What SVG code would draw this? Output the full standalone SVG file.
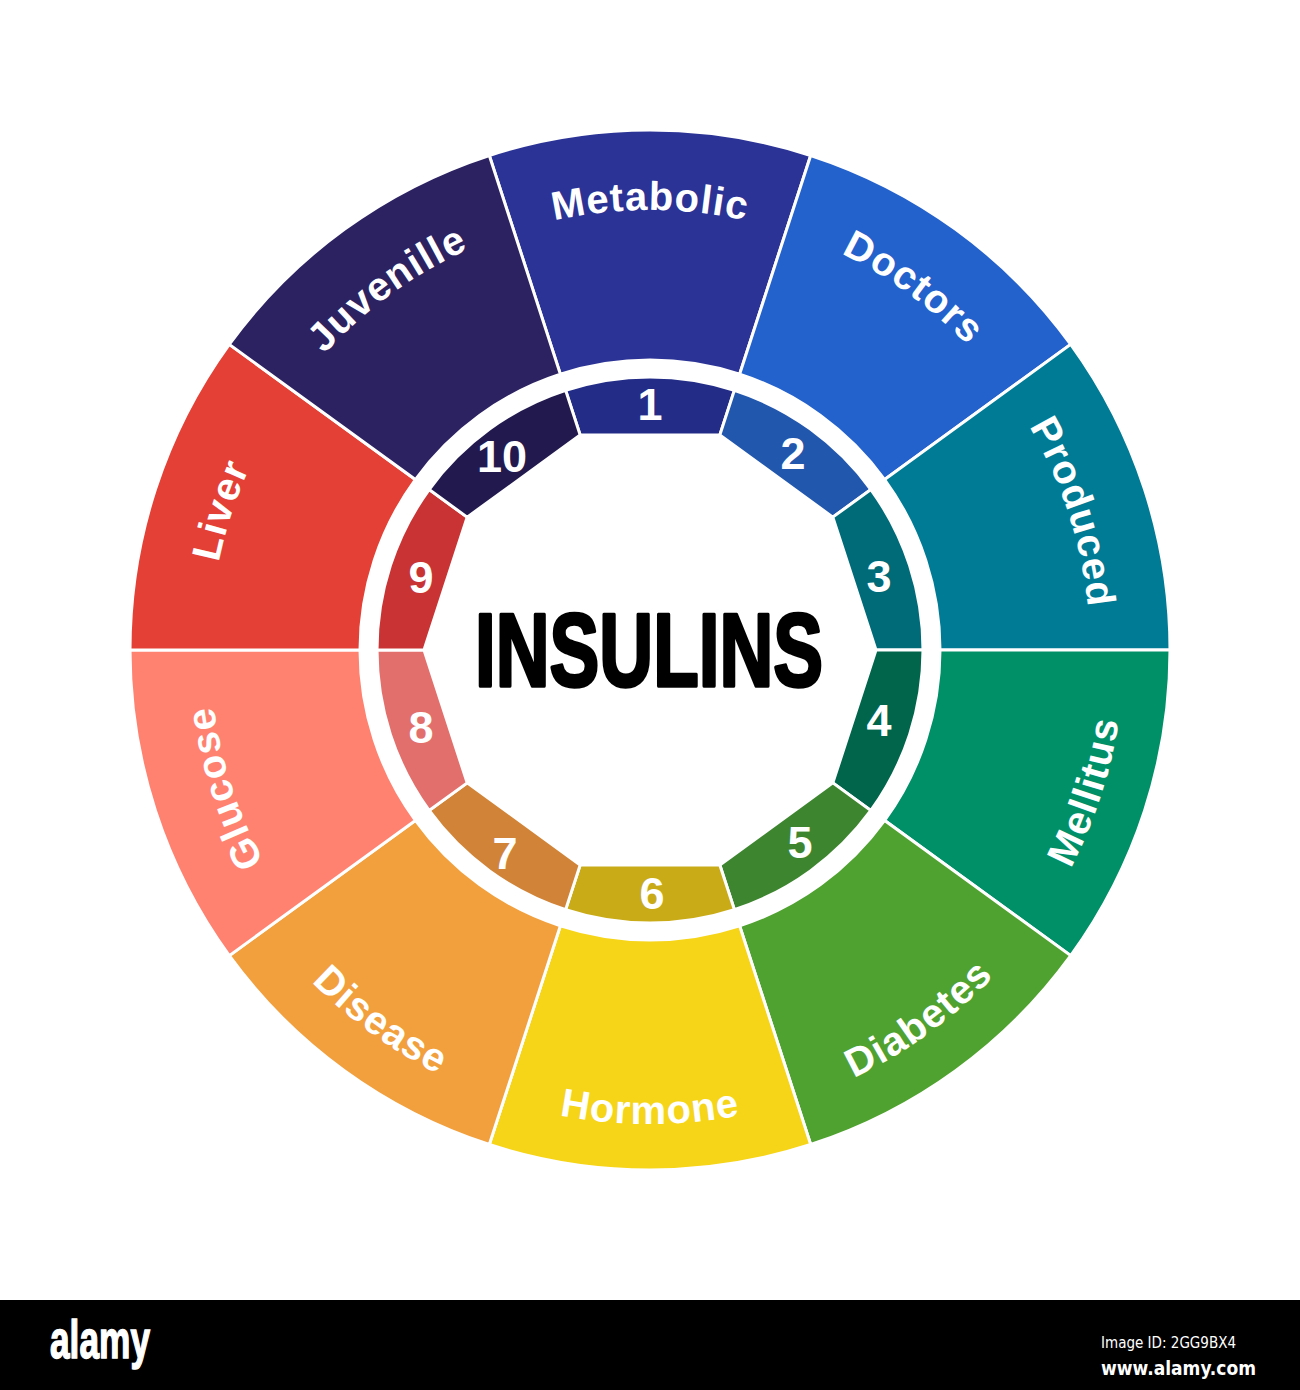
<svg xmlns="http://www.w3.org/2000/svg" width="1300" height="1390" viewBox="0 0 1300 1390">
<style>
.seg{stroke:#fff;stroke-width:3;stroke-linejoin:miter}
.lbl{font-family:"Liberation Sans",Arial,sans-serif;font-weight:bold;font-size:40px;fill:#fff;text-anchor:middle;letter-spacing:1px}
.num{font-family:"Liberation Sans",Arial,sans-serif;font-weight:bold;font-size:45px;fill:#fff;text-anchor:middle}
.title{font-family:"Liberation Sans Narrow","Liberation Sans",Arial,sans-serif;font-weight:bold;font-size:104px;fill:#000;stroke:#000;stroke-width:3.5;stroke-linejoin:round;text-anchor:middle}
</style>
<defs>
<path id="pMetabolic" d="M268.95,430 A440,440 0 0 1 1031.05,430"/>
<path id="pDoctors" d="M471.03,248.04 A440,440 0 0 1 1087.59,695.99"/>
<path id="pProduced" d="M741.48,219.61 A440,440 0 0 1 976.98,944.42"/>
<path id="pJuvenille" d="M212.41,695.99 A440,440 0 0 1 828.97,248.04"/>
<path id="pLiver" d="M323.02,944.42 A440,440 0 0 1 558.52,219.61"/>
<path id="pGlucose" d="M558.52,1080.39 A440,440 0 0 1 323.02,355.58"/>
<path id="pHormone" d="M239.5,887 A474,474 0 0 0 1060.5,887"/>
<path id="pDiabetes" d="M457.21,1083.02 A474,474 0 0 0 1121.40,600.45"/>
<path id="pMellitus" d="M748.55,1113.64 A474,474 0 0 0 1002.25,332.83"/>
<path id="pDisease" d="M178.60,600.45 A474,474 0 0 0 842.79,1083.02"/>
</defs>
<rect x="0" y="0" width="1300" height="1390" fill="#fff"/>

<g id="outer-ring">
<g id="node-metabolic">
<path class="seg" fill="#2B3396" d="M489.31,155.45 A520,520 0 0 1 810.69,155.45 L739.62,374.19 A290,290 0 0 0 560.38,374.19 Z"/>
<text class="lbl"><textPath href="#pMetabolic" startOffset="50%">Metabolic</textPath></text>
</g>
<g id="node-doctors">
<path class="seg" fill="#2361CC" d="M810.69,155.45 A520,520 0 0 1 1070.69,344.35 L884.62,479.54 A290,290 0 0 0 739.62,374.19 Z"/>
<text class="lbl"><textPath href="#pDoctors" startOffset="50%">Doctors</textPath></text>
</g>
<g id="node-produced">
<path class="seg" fill="#007B95" d="M1070.69,344.35 A520,520 0 0 1 1170,650 L940,650 A290,290 0 0 0 884.62,479.54 Z"/>
<text class="lbl"><textPath href="#pProduced" startOffset="50%">Produced</textPath></text>
</g>
<g id="node-mellitus">
<path class="seg" fill="#009068" d="M1170,650 A520,520 0 0 1 1070.69,955.65 L884.62,820.46 A290,290 0 0 0 940,650 Z"/>
<text class="lbl"><textPath href="#pMellitus" startOffset="50%">Mellitus</textPath></text>
</g>
<g id="node-diabetes">
<path class="seg" fill="#4FA22F" d="M1070.69,955.65 A520,520 0 0 1 810.69,1144.55 L739.62,925.81 A290,290 0 0 0 884.62,820.46 Z"/>
<text class="lbl"><textPath href="#pDiabetes" startOffset="50%">Diabetes</textPath></text>
</g>
<g id="node-hormone">
<path class="seg" fill="#F6D417" d="M810.69,1144.55 A520,520 0 0 1 489.31,1144.55 L560.38,925.81 A290,290 0 0 0 739.62,925.81 Z"/>
<text class="lbl"><textPath href="#pHormone" startOffset="50%">Hormone</textPath></text>
</g>
<g id="node-disease">
<path class="seg" fill="#F2A03E" d="M489.31,1144.55 A520,520 0 0 1 229.31,955.65 L415.38,820.46 A290,290 0 0 0 560.38,925.81 Z"/>
<text class="lbl"><textPath href="#pDisease" startOffset="50%">Disease</textPath></text>
</g>
<g id="node-glucose">
<path class="seg" fill="#FF8271" d="M229.31,955.65 A520,520 0 0 1 130,650 L360,650 A290,290 0 0 0 415.38,820.46 Z"/>
<text class="lbl"><textPath href="#pGlucose" startOffset="50%">Glucose</textPath></text>
</g>
<g id="node-liver">
<path class="seg" fill="#E44035" d="M130,650 A520,520 0 0 1 229.31,344.35 L415.38,479.54 A290,290 0 0 0 360,650 Z"/>
<text class="lbl"><textPath href="#pLiver" startOffset="50%">Liver</textPath></text>
</g>
<g id="node-juvenille">
<path class="seg" fill="#2C2262" d="M229.31,344.35 A520,520 0 0 1 489.31,155.45 L560.38,374.19 A290,290 0 0 0 415.38,479.54 Z"/>
<text class="lbl"><textPath href="#pJuvenille" startOffset="50%">Juvenille</textPath></text>
</g>
</g>

<g id="inner-ring">
<g id="node-1">
<path class="seg" fill="#232D87" d="M565.64,390.36 A273,273 0 0 1 734.36,390.36 L719.84,435.06 L580.16,435.06 Z"/>
<text class="num" x="650" y="420">1</text>
</g>
<g id="node-2">
<path class="seg" fill="#2257AE" d="M734.36,390.36 A273,273 0 0 1 870.86,489.53 L832.84,517.16 L719.84,435.06 Z"/>
<text class="num" x="793" y="469">2</text>
</g>
<g id="node-3">
<path class="seg" fill="#006B78" d="M870.86,489.53 A273,273 0 0 1 923,650 L876,650 L832.84,517.16 Z"/>
<text class="num" x="879" y="592">3</text>
</g>
<g id="node-4">
<path class="seg" fill="#00654A" d="M923,650 A273,273 0 0 1 870.86,810.47 L832.84,782.84 L876,650 Z"/>
<text class="num" x="879" y="736">4</text>
</g>
<g id="node-5">
<path class="seg" fill="#3E8530" d="M870.86,810.47 A273,273 0 0 1 734.36,909.64 L719.84,864.94 L832.84,782.84 Z"/>
<text class="num" x="800" y="858">5</text>
</g>
<g id="node-6">
<path class="seg" fill="#C9AB18" d="M734.36,909.64 A273,273 0 0 1 565.64,909.64 L580.16,864.94 L719.84,864.94 Z"/>
<text class="num" x="652" y="909">6</text>
</g>
<g id="node-7">
<path class="seg" fill="#D18437" d="M565.64,909.64 A273,273 0 0 1 429.14,810.47 L467.16,782.84 L580.16,864.94 Z"/>
<text class="num" x="505" y="869">7</text>
</g>
<g id="node-8">
<path class="seg" fill="#E26F6B" d="M429.14,810.47 A273,273 0 0 1 377,650 L424,650 L467.16,782.84 Z"/>
<text class="num" x="421" y="743">8</text>
</g>
<g id="node-9">
<path class="seg" fill="#C93333" d="M377,650 A273,273 0 0 1 429.14,489.53 L467.16,517.16 L424,650 Z"/>
<text class="num" x="421" y="593">9</text>
</g>
<g id="node-10">
<path class="seg" fill="#221A4E" d="M429.14,489.53 A273,273 0 0 1 565.64,390.36 L580.16,435.06 L467.16,517.16 Z"/>
<text class="num" x="502" y="472">10</text>
</g>
</g>

<g id="node-center">
<text class="title" x="649" y="686" textLength="348" lengthAdjust="spacingAndGlyphs">INSULINS</text>
</g>

<g id="connectors"></g>

<g id="footer">
<rect x="0" y="1300" width="1300" height="90" fill="#000"/>
<text x="50" y="1358" font-family="Liberation Sans Narrow,Liberation Sans,sans-serif" font-weight="bold" font-size="54" fill="#fff" stroke="#fff" stroke-width="1.5" textLength="100" lengthAdjust="spacingAndGlyphs">alamy</text>
<text x="1236" y="1348" font-family="DejaVu Sans Condensed,DejaVu Sans,sans-serif" font-size="15" fill="#fff" text-anchor="end">Image ID: 2GG9BX4</text>
<text x="1256" y="1375" font-family="DejaVu Sans Condensed,DejaVu Sans,sans-serif" font-weight="bold" font-size="19" fill="#fff" text-anchor="end">www.alamy.com</text>
</g>
</svg>
